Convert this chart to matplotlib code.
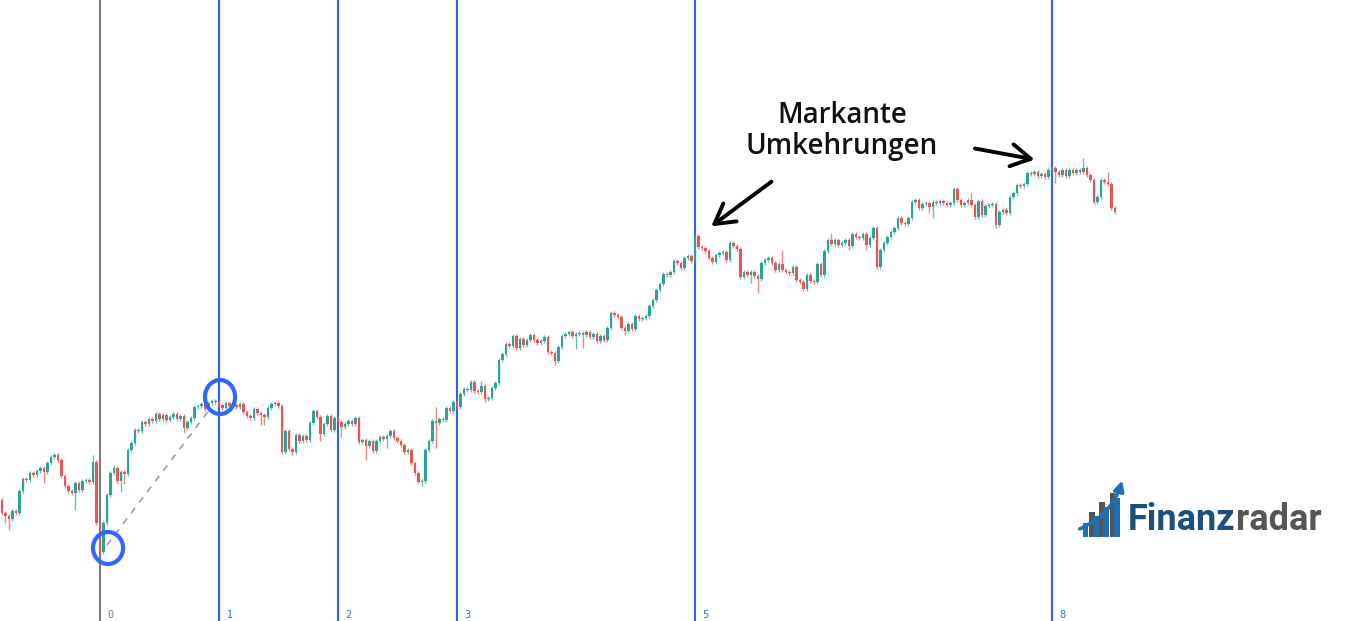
import numpy as np
import matplotlib.pyplot as plt
from matplotlib.patches import Ellipse

# price path: open of the first bar, then the close of every bar (arbitrary units)
levels = [
    121, 108, 105, 102, 110, 108, 130, 142, 141, 148, 146, 150, 153, 149, 158, 164, 166, 161, 145, 135,
    130, 128, 138, 131, 140, 141, 139, 159, 98, 69, 98, 126, 148, 153, 140, 149, 147, 171, 178, 191,
    190, 199, 197, 202, 200, 207, 202, 206, 201, 204, 207, 202, 205, 193, 199, 203, 214, 215, 217, 212,
    218, 220, 219, 216, 213, 218, 215, 216, 214, 217, 209, 205, 203, 212, 208, 206, 204, 213, 217, 218,
    215, 169, 190, 172, 169, 186, 180, 185, 181, 198, 210, 204, 187, 197, 205, 191, 203, 199, 194, 197,
    200, 197, 203, 179, 181, 175, 180, 170, 180, 184, 182, 185, 190, 183, 180, 176, 169, 171, 158, 148,
    139, 140, 171, 180, 200, 198, 202, 201, 213, 210, 219, 214, 227, 232, 231, 239, 230, 229, 235, 222,
    223, 233, 238, 261, 267, 277, 275, 285, 273, 282, 276, 281, 286, 281, 278, 280, 284, 269, 268, 260,
    274, 285, 287, 289, 285, 287, 288, 286, 289, 284, 287, 280, 285, 281, 293, 308, 306, 304, 293, 290,
    297, 292, 305, 302, 303, 305, 315, 321, 331, 337, 347, 346, 349, 360, 358, 353, 363, 365, 360, 385,
    374, 373, 370, 363, 359, 366, 368, 369, 361, 378, 375, 372, 344, 349, 346, 349, 345, 342, 358, 361,
    363, 358, 351, 357, 351, 349, 348, 354, 341, 339, 332, 346, 340, 339, 357, 346, 370, 381, 377, 381,
    376, 378, 381, 375, 387, 384, 383, 387, 376, 383, 393, 354, 371, 378, 384, 389, 393, 403, 398, 397,
    403, 419, 421, 413, 417, 418, 414, 419, 418, 420, 418, 416, 418, 432, 421, 416, 418, 421, 416, 404,
    420, 406, 415, 416, 417, 396, 409, 411, 408, 424, 428, 436, 435, 437, 448, 447, 449, 445, 447, 444,
    451, 453, 449, 446, 451, 445, 451, 448, 451, 449, 453, 446, 441, 419, 424, 441, 439, 437, 413, 409,
]

# long wicks (bar index: price)
highs_read = {16: 168, 26: 166, 32: 156, 124: 214, 137: 240, 223: 371, 237: 388,
              277: 428, 309: 463, 316: 449}
lows_read = {1: 98, 2: 91, 12: 138, 21: 111, 28: 66, 34: 129, 35: 137, 52: 188, 74: 196,
             75: 196, 83: 166, 91: 180, 97: 184, 104: 161, 110: 173, 120: 135, 124: 173,
             125: 196, 138: 219, 158: 256, 164: 272, 166: 273, 178: 286, 214: 338, 216: 328,
             242: 371, 247: 371, 265: 408, 266: 403, 284: 393, 301: 438}

# fibonacci time zones
fib_start = 28
fib_unit = 34
fib_levels = [0, 1, 2, 3, 5, 8]

note_text = "Markante\nUmkehrungen"
brand_a = "Finanz"
brand_b = "radar"
logo_blue = [2.4, 3.6, 5.0, 6.6]
logo_gray = [4.2, 5.8, 7.4]

opens = np.array(levels[:-1], dtype=float)
closes = np.array(levels[1:], dtype=float)
n = len(closes)
bars = np.arange(n)
highs = np.maximum(opens, closes) + 2
lows = np.minimum(opens, closes) - 2
for k, v in highs_read.items():
    highs[k] = v
for k, v in lows_read.items():
    lows[k] = v

up_col = '#26a69a'
dn_col = '#ef5350'
colors = np.where(closes >= opens, up_col, dn_col)

fig = plt.figure(figsize=(13.54, 6.21), dpi=100)
ax = fig.add_axes([0, 0, 1, 1])
ax.set_xlim(-0.57, 386.3)
ax.set_ylim(0, 621)
ax.axis('off')

# time zone lines
for lv in fib_levels:
    xb = fib_start + lv * fib_unit
    c = '#787b86' if lv == 0 else '#2962ff'
    ax.axvline(xb, color=c, lw=1.5, zorder=1)
    ax.text(xb + 2.2, 1, str(lv), color=c, fontsize=7, va='bottom', ha='left')

# candles
ax.vlines(bars, lows, highs, colors=colors, lw=1, alpha=0.7, zorder=2)
body = np.maximum(np.abs(closes - opens), 1.5)
ax.bar(bars, body, bottom=np.minimum(opens, closes), width=0.78, color=colors,
       linewidth=0, zorder=3)

# marked low and pivot
i_low = int(np.argmin(lows))
i_piv = fib_start + fib_unit
ax.plot([i_low + 2, i_piv - 3], [lows[i_low] + 10, lows[i_piv - 3]], color='#9e9e9e',
        lw=1.2, dashes=(4, 4), zorder=2)
ax.add_patch(Ellipse((i_low + 2.3, lows[i_low] + 7), 8.6, 32, fill=False,
                     ec='#2f66ff', lw=3, zorder=4))
ax.add_patch(Ellipse((i_piv + 0.3, highs[i_piv - 2] + 2), 8.6, 34, fill=False,
                     ec='#2f66ff', lw=3, zorder=4))

# annotation
ax.text(240, 490, note_text, ha='center', va='center', fontsize=20, linespacing=1.05,
        color='#111111', family='Open Sans', fontweight='semibold')
arrow = dict(arrowstyle='->,head_length=1.4,head_width=0.8', lw=2.8, color='black')
ax.annotate('', xy=(202, 393), xytext=(220.5, 441), arrowprops=arrow)
ax.annotate('', xy=(295.8, 461), xytext=(277.2, 473), arrowprops=arrow)

# logo
t1 = ax.text(321.7, 91, brand_a, color='#1d4f7c', fontsize=26, fontweight='bold',
             family='Roboto', va='baseline', ha='left')
ax.annotate(brand_b, xy=(1, 0), xycoords=t1, va='bottom', ha='left', color='#555555',
            fontsize=26, fontweight='bold', family='Roboto')

lax = fig.add_axes([0.794, 0.135, 0.0384, 0.0966])
lax.axis('off')
lax.set_xlim(0, 5)
lax.set_ylim(0, 10)
lax.bar(np.arange(len(logo_gray)) + 1.6, logo_gray, width=0.55, color='#555555')
lax.bar(np.arange(len(logo_blue)) + 1.0, logo_blue, width=0.55, color='#1f6fb5')
lax.annotate('', xy=(4.6, 9.9), xytext=(0.2, 1.2),
             arrowprops=dict(arrowstyle='-|>,head_length=0.6,head_width=0.3', lw=2.5,
                             color='#1f6fb5', connectionstyle='arc3,rad=0.25'))

fig.savefig('out.png', dpi=100)
